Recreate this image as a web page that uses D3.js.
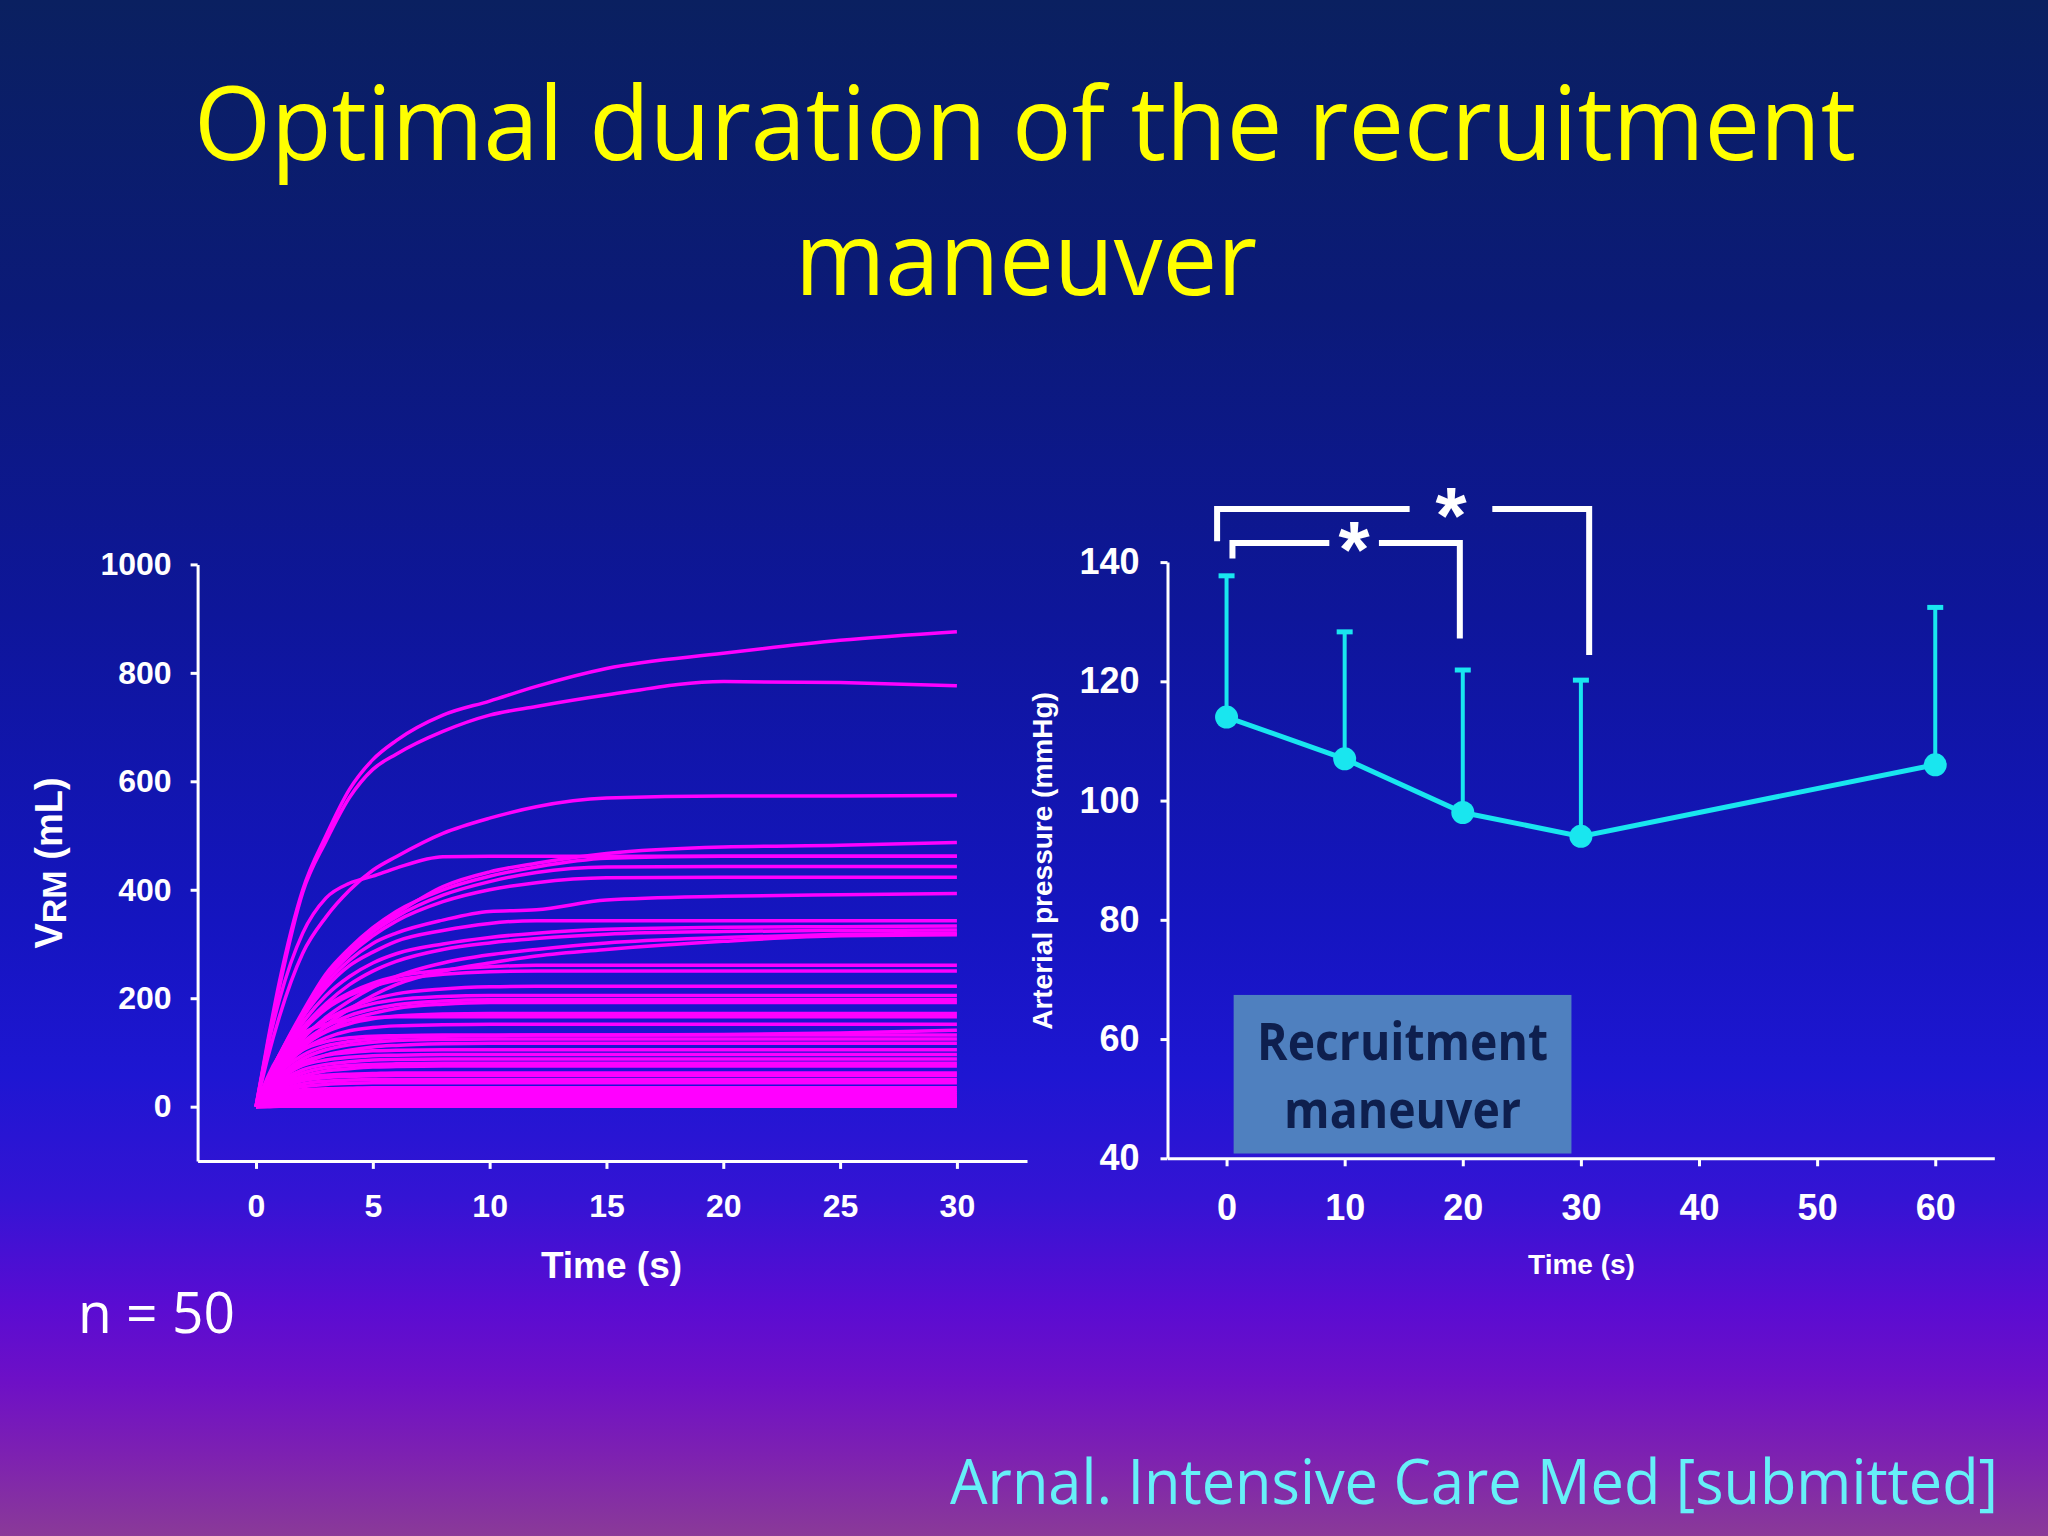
<!DOCTYPE html>
<html>
<head>
<meta charset="utf-8">
<script src="https://cdn.jsdelivr.net/npm/d3@7"></script>
<style>
  body { margin: 0; }
  svg { display: block; }
  .axis text { font-family: "Liberation Sans", Arial, sans-serif; font-weight: bold; fill: #fff; }
  .axis path, .axis line { stroke: #fff; stroke-width: 3; }
</style>
</head>
<body>
<div id="slide"></div>
<script>
// left panel: volume recruited during the maneuver, one row per patient (n = 50)
const times = [0, 0.5, 1, 2, 3, 4, 5, 6, 8, 10, 12, 15, 20, 25, 30];
const volumeCurves = [
  [0, 120, 230, 400, 500, 585, 640, 675, 722, 748, 775, 808, 836, 860, 876],
  [0, 115, 220, 395, 490, 570, 622, 650, 692, 722, 738, 759, 784, 782, 776],
  [0, 90, 166, 283, 350, 399, 436, 461, 504, 532, 553, 569, 573, 573, 574],
  [0, 110, 197, 320, 385, 412, 425, 440, 461, 462, 462, 462, 462, 462, 462],
  [0, 45, 86, 166, 240, 289, 329, 356, 406, 433, 449, 467, 479, 482, 487],
  [0, 50, 95, 175, 245, 292, 330, 360, 400, 425, 442, 458, 462, 462, 462],
  [0, 50, 95, 172, 240, 285, 322, 350, 390, 415, 432, 442, 443, 443, 443],
  [0, 48, 92, 170, 235, 280, 315, 342, 378, 400, 413, 422, 423, 423, 423],
  [0, 45, 86, 166, 227, 270, 301, 320, 344, 360, 363, 381, 388, 391, 393],
  [0, 50, 95, 165, 220, 260, 285, 305, 325, 338, 343, 343, 343, 343, 343],
  [0, 45, 88, 155, 205, 240, 265, 282, 300, 312, 320, 327, 331, 332, 333],
  [0, 40, 80, 145, 190, 225, 250, 268, 290, 302, 310, 318, 323, 325, 326],
  [0, 35, 70, 125, 165, 195, 220, 240, 265, 280, 290, 302, 312, 318, 320],
  [0, 30, 60, 110, 150, 180, 205, 225, 250, 265, 278, 290, 305, 315, 317],
  [0, 45, 85, 145, 185, 210, 228, 240, 252, 258, 261, 261, 261, 261, 261],
  [0, 45, 82, 140, 180, 205, 222, 233, 244, 249, 250, 250, 250, 250, 250],
  [0, 40, 75, 128, 160, 182, 198, 208, 217, 221, 222, 222, 222, 222, 222],
  [0, 45, 80, 130, 160, 178, 190, 197, 203, 205, 205, 205, 205, 205, 205],
  [0, 40, 72, 118, 148, 168, 180, 188, 195, 197, 197, 197, 197, 197, 197],
  [0, 35, 65, 110, 140, 160, 172, 181, 189, 192, 192, 192, 192, 192, 192],
  [0, 40, 70, 112, 138, 153, 162, 167, 171, 172, 172, 172, 172, 172, 172],
  [0, 55, 95, 135, 152, 160, 164, 166, 166, 166, 166, 166, 166, 166, 166],
  [0, 35, 65, 105, 127, 140, 146, 149, 151, 152, 152, 152, 152, 152, 152],
  [0, 35, 62, 95, 112, 120, 125, 128, 130, 131, 132, 132, 133, 136, 141],
  [0, 40, 70, 105, 120, 127, 130, 131, 132, 132, 132, 132, 132, 132, 132],
  [0, 30, 55, 88, 105, 114, 119, 122, 124, 125, 125, 125, 125, 125, 125],
  [0, 25, 48, 78, 95, 104, 110, 113, 116, 117, 117, 117, 117, 117, 117],
  [0, 30, 55, 82, 95, 100, 103, 104, 105, 105, 105, 105, 105, 105, 105],
  [0, 30, 52, 76, 86, 91, 94, 95, 96, 96, 96, 96, 96, 96, 96],
  [0, 25, 45, 68, 78, 83, 86, 87, 88, 88, 88, 88, 88, 88, 88],
  [0, 25, 42, 62, 72, 76, 78, 79, 80, 80, 80, 80, 80, 80, 80],
  [0, 22, 38, 56, 66, 70, 73, 74, 75, 75, 75, 75, 75, 75, 75],
  [0, 22, 37, 52, 58, 60, 61, 62, 62, 62, 62, 62, 62, 62, 62],
  [0, 20, 34, 48, 54, 56, 57, 58, 58, 58, 58, 58, 58, 58, 58],
  [0, 18, 30, 42, 47, 49, 50, 50, 50, 50, 50, 50, 50, 50, 50],
  [0, 16, 27, 37, 41, 43, 44, 44, 44, 44, 44, 44, 44, 44, 44],
  [0, 15, 24, 31, 33, 34, 35, 35, 35, 35, 35, 35, 35, 35, 35],
  [0, 13, 21, 27, 29, 30, 30, 30, 30, 30, 30, 30, 30, 30, 30],
  [0, 12, 19, 24, 25, 26, 26, 26, 26, 26, 26, 26, 26, 26, 26],
  [0, 10, 16, 20, 21, 22, 22, 22, 22, 22, 22, 22, 22, 22, 22],
  [0, 9, 14, 17, 18, 18, 18, 18, 18, 18, 18, 18, 18, 18, 18],
  [0, 7, 11, 14, 15, 15, 15, 15, 15, 15, 15, 15, 15, 15, 15],
  [0, 6, 9, 11, 12, 12, 12, 12, 12, 12, 12, 12, 12, 12, 12],
  [0, 5, 8, 9, 10, 10, 10, 10, 10, 10, 10, 10, 10, 10, 10],
  [0, 4, 6, 7, 8, 8, 8, 8, 8, 8, 8, 8, 8, 8, 8],
  [0, 3, 5, 6, 6, 6, 6, 6, 6, 6, 6, 6, 6, 6, 6],
  [0, 2, 3, 4, 4, 4, 4, 4, 4, 4, 4, 4, 4, 4, 4],
  [0, 1, 2, 3, 3, 3, 3, 3, 3, 3, 3, 3, 3, 3, 3],
  [0, 1, 1, 2, 2, 2, 2, 2, 2, 2, 2, 2, 2, 2, 2],
  [0, 0, 1, 1, 1, 1, 1, 1, 1, 1, 1, 1, 1, 1, 1]
];
const volumeTicks = [0, 200, 400, 600, 800, 1000];
const volumeTimeTicks = [0, 5, 10, 15, 20, 25, 30];

// right panel: arterial pressure, mean and upper SD
const pressureTimes = [0, 10, 20, 30, 60];
const pressureMean = [114, 107, 98, 94, 106];
const pressureUpper = [137.7, 128.3, 121.9, 120.2, 132.4];
const pressureTicks = [40, 60, 80, 100, 120, 140];
const pressureTimeTicks = [0, 10, 20, 30, 40, 50, 60];

// significance brackets, in data units of the right panel
const bracketFrom = [-0.8, 0.5];
const bracketTo = [30.7, 19.75];
const bracketTop = [148.9, 143.2];
const bracketLeftEnd = [143.5, 140.6];
const bracketRightEnd = [124.4, 127.2];
const bracketGap = [[15.5, 22.5], [8.7, 12.9]];
const bracketStar = [19.0, 10.8];

const maneuverSpan = [0.6, 29.2];
const maneuverLevels = [40.8, 67.4];

const width = 2048, height = 1536;

const svg = d3.select("#slide")
  .append("svg")
  .attr("width", width)
  .attr("height", height);

const grad = svg.append("defs").append("linearGradient")
  .attr("id", "bg")
  .attr("x1", 0).attr("y1", 0).attr("x2", 0).attr("y2", 1);
[
  [0, "#0a2060"], [0.2, "#0b1a78"], [0.4, "#0e169a"], [0.6, "#1515c0"],
  [0.7, "#1e16d2"], [0.78, "#3414d4"], [0.85, "#5a0cd2"], [0.9, "#6e10c6"],
  [0.95, "#7e22b0"], [1, "#8a3a98"]
].forEach(([o, c]) => grad.append("stop").attr("offset", o).attr("stop-color", c));

svg.append("rect")
  .attr("width", width)
  .attr("height", height)
  .attr("fill", "url(#bg)");

// title
const titleFont = "'Open Sans', 'Noto Sans', sans-serif";
svg.append("text")
  .attr("x", 194).attr("y", 160)
  .attr("textLength", 1662).attr("lengthAdjust", "spacingAndGlyphs")
  .style("font-family", titleFont).style("font-size", "102px")
  .attr("fill", "#ffff00")
  .text("Optimal duration of the recruitment");
svg.append("text")
  .attr("x", 795).attr("y", 295)
  .attr("textLength", 462).attr("lengthAdjust", "spacingAndGlyphs")
  .style("font-family", titleFont).style("font-size", "102px")
  .attr("fill", "#ffff00")
  .text("maneuver");

// ---------- left panel ----------
const x1 = d3.scaleLinear().domain([-2.5, 33]).range([197.6, 1027]);
const y1 = d3.scaleLinear().domain([-100, 1000]).range([1160.9, 564.4]);

const line1 = d3.line()
  .x(d => x1(d[0]))
  .y(d => y1(d[1]))
  .curve(d3.curveMonotoneX);

svg.append("g")
  .selectAll("path")
  .data(volumeCurves.map(v => times.map((t, i) => [t, v[i]])))
  .join("path")
  .attr("fill", "none")
  .attr("stroke", "#ff00ff")
  .attr("stroke-width", 3.5)
  .attr("d", line1);

svg.append("g")
  .attr("class", "axis")
  .attr("transform", `translate(0,${y1(-100)})`)
  .call(d3.axisBottom(x1).tickValues(volumeTimeTicks).tickSize(8).tickPadding(25).tickSizeOuter(0))
  .call(g => g.selectAll("text").style("font-size", "32px"));

svg.append("g")
  .attr("class", "axis")
  .attr("transform", `translate(${x1(-2.5)},0)`)
  .call(d3.axisLeft(y1).tickValues(volumeTicks).tickFormat(d3.format("d"))
    .tickSize(7).tickPadding(19).tickSizeOuter(0))
  .call(g => g.selectAll("text").style("font-size", "32px"));

const vLabel = svg.append("text")
  .attr("transform", "translate(62,863) rotate(-90)")
  .attr("text-anchor", "middle")
  .attr("fill", "#fff")
  .style("font-family", "'Liberation Sans', Arial, sans-serif")
  .style("font-weight", "bold")
  .style("font-size", "38px");
vLabel.append("tspan").text("V");
vLabel.append("tspan").attr("dy", 4).style("font-size", "34px").text("RM");
vLabel.append("tspan").attr("dy", -4).text(" (mL)");

svg.append("text")
  .attr("x", 611.5).attr("y", 1278)
  .attr("text-anchor", "middle")
  .attr("fill", "#fff")
  .style("font-family", "'Liberation Sans', Arial, sans-serif")
  .style("font-weight", "bold")
  .style("font-size", "37px")
  .text("Time (s)");

svg.append("text")
  .attr("x", 78).attr("y", 1333)
  .attr("textLength", 157).attr("lengthAdjust", "spacingAndGlyphs")
  .attr("fill", "#fff")
  .style("font-family", titleFont)
  .style("font-size", "56px")
  .text("n = 50");

// ---------- right panel ----------
const x2 = d3.scaleLinear().domain([-5, 65]).range([1167.5, 1994.3]);
const y2 = d3.scaleLinear().domain([40, 140]).range([1158.3, 562.1]);

svg.append("rect")
  .attr("x", x2(maneuverSpan[0]))
  .attr("y", y2(maneuverLevels[1]))
  .attr("width", x2(maneuverSpan[1]) - x2(maneuverSpan[0]))
  .attr("height", y2(maneuverLevels[0]) - y2(maneuverLevels[1]))
  .attr("fill", "#4f80bf");

const boxX = (x2(maneuverSpan[0]) + x2(maneuverSpan[1])) / 2;
svg.append("text")
  .attr("x", boxX).attr("y", 1060)
  .attr("text-anchor", "middle")
  .attr("textLength", 291).attr("lengthAdjust", "spacingAndGlyphs")
  .attr("fill", "#0e1f4e")
  .style("font-family", titleFont).style("font-weight", "bold").style("font-size", "52px")
  .text("Recruitment");
svg.append("text")
  .attr("x", boxX).attr("y", 1128)
  .attr("text-anchor", "middle")
  .attr("textLength", 237).attr("lengthAdjust", "spacingAndGlyphs")
  .attr("fill", "#0e1f4e")
  .style("font-family", titleFont).style("font-weight", "bold").style("font-size", "52px")
  .text("maneuver");

svg.append("g")
  .attr("class", "axis")
  .attr("transform", `translate(0,${y2(40)})`)
  .call(d3.axisBottom(x2).tickValues(pressureTimeTicks).tickSize(8).tickPadding(28).tickSizeOuter(0))
  .call(g => g.selectAll("text").style("font-size", "36px"));

svg.append("g")
  .attr("class", "axis")
  .attr("transform", `translate(${x2(-5)},0)`)
  .call(d3.axisLeft(y2).tickValues(pressureTicks).tickSize(7).tickPadding(21).tickSizeOuter(0))
  .call(g => g.selectAll("text").style("font-size", "36px"));

const cyan = "#19e6ef";
const pressure = pressureTimes.map((t, i) => ({ t: t, mean: pressureMean[i], upper: pressureUpper[i] }));

const bars = svg.append("g").attr("stroke", cyan);
bars.selectAll(".err")
  .data(pressure)
  .join("line")
  .attr("class", "err")
  .attr("stroke-width", 4)
  .attr("x1", d => x2(d.t)).attr("x2", d => x2(d.t))
  .attr("y1", d => y2(d.mean)).attr("y2", d => y2(d.upper));
bars.selectAll(".cap")
  .data(pressure)
  .join("line")
  .attr("class", "cap")
  .attr("stroke-width", 5)
  .attr("x1", d => x2(d.t) - 8).attr("x2", d => x2(d.t) + 8)
  .attr("y1", d => y2(d.upper)).attr("y2", d => y2(d.upper));

svg.append("path")
  .datum(pressure)
  .attr("fill", "none")
  .attr("stroke", cyan)
  .attr("stroke-width", 5)
  .attr("d", d3.line().x(d => x2(d.t)).y(d => y2(d.mean)));

svg.append("g")
  .selectAll("circle")
  .data(pressure)
  .join("circle")
  .attr("cx", d => x2(d.t))
  .attr("cy", d => y2(d.mean))
  .attr("r", 11.5)
  .attr("fill", cyan);

const brk = svg.append("g");
bracketFrom.forEach((from, i) => {
  const top = y2(bracketTop[i]);
  brk.append("path")
    .attr("fill", "none")
    .attr("stroke", "#fff")
    .attr("stroke-width", 6)
    .attr("d", `M${x2(from)},${y2(bracketLeftEnd[i])}V${top}H${x2(bracketGap[i][0])}` +
               `M${x2(bracketGap[i][1])},${top}H${x2(bracketTo[i])}V${y2(bracketRightEnd[i])}`);
  brk.append("text")
    .attr("x", x2(bracketStar[i]))
    .attr("y", top + 34)
    .attr("text-anchor", "middle")
    .attr("fill", "#fff")
    .style("font-family", "'Liberation Sans', Arial, sans-serif")
    .style("font-weight", "bold")
    .style("font-size", "80px")
    .text("*");
});

svg.append("text")
  .attr("transform", "translate(1052,861) rotate(-90)")
  .attr("text-anchor", "middle")
  .attr("fill", "#fff")
  .style("font-family", "'Liberation Sans', Arial, sans-serif")
  .style("font-weight", "bold")
  .style("font-size", "28px")
  .text("Arterial pressure (mmHg)");

svg.append("text")
  .attr("x", 1581.5).attr("y", 1274)
  .attr("text-anchor", "middle")
  .attr("fill", "#fff")
  .style("font-family", "'Liberation Sans', Arial, sans-serif")
  .style("font-weight", "bold")
  .style("font-size", "28px")
  .text("Time (s)");

// citation
svg.append("text")
  .attr("x", 950).attr("y", 1504)
  .attr("textLength", 1048).attr("lengthAdjust", "spacingAndGlyphs")
  .attr("fill", "#66f0f8")
  .style("font-family", titleFont)
  .style("font-size", "62px")
  .text("Arnal. Intensive Care Med [submitted]");
</script>
</body>
</html>
